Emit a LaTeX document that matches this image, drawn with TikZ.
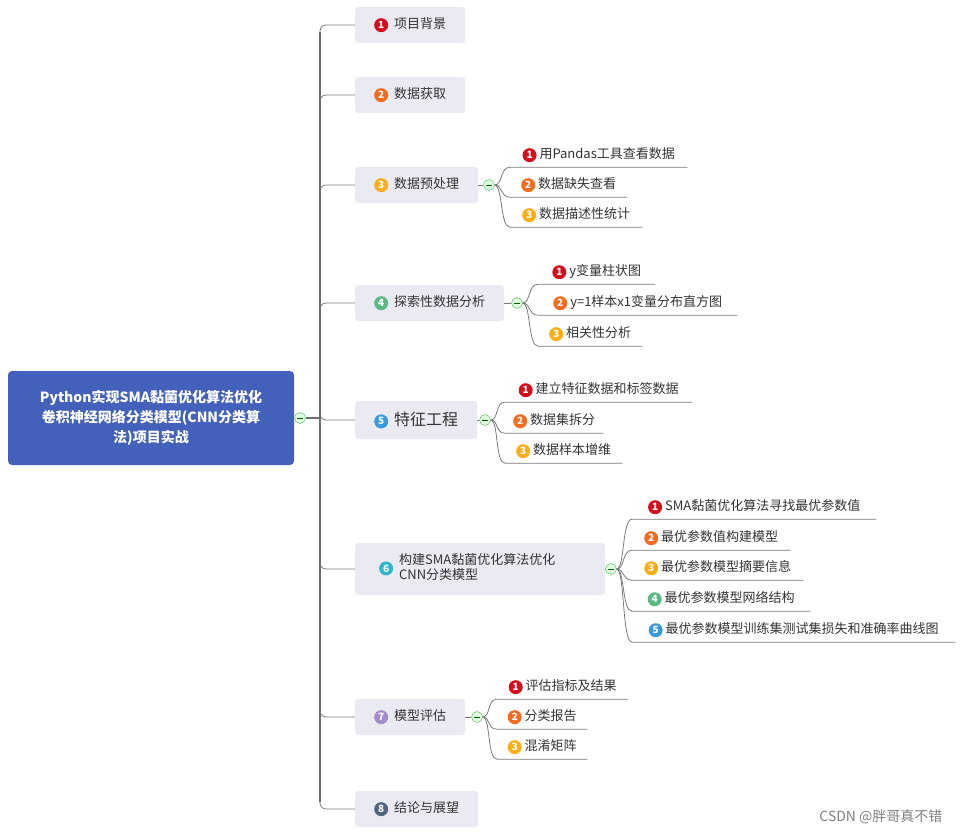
\documentclass[tikz,border=0pt]{standalone}
\usepackage{fontspec}
\setmainfont{Noto Sans CJK SC}
\definecolor{rootblue}{HTML}{4360BA}
\definecolor{boxgray}{HTML}{EAEAF2}
\definecolor{linegray}{HTML}{7A7A7A}
\definecolor{cred}{HTML}{D50D1C}
\definecolor{corange}{HTML}{F26B21}
\definecolor{camber}{HTML}{FBAE17}
\definecolor{cgreen}{HTML}{5BBA84}
\definecolor{cblue}{HTML}{3A9AD9}
\definecolor{ccyan}{HTML}{34B5C8}
\definecolor{cpurple}{HTML}{A58BC9}
\definecolor{cslate}{HTML}{4F6582}
\newcommand{\badge}[2]{\tikz[baseline=-3.6pt]\node[circle,fill=#1,text=white,inner sep=0pt,minimum size=14pt,font=\fontsize{10}{10}\selectfont\bfseries]{#2};}
\tikzset{
  topic/.style={rectangle,rounded corners=3pt,fill=boxgray,minimum height=36pt,inner xsep=19pt,
    anchor=west,font=\fontsize{13}{15}\selectfont,text=black!80},
  leaf/.style={anchor=west,minimum height=24pt,inner xsep=6pt,text=black!80,align=left,
    font=\fontsize{13}{15}\selectfont},
  fold/.style={circle,draw=green!60!black!70,fill=green!12,inner sep=0pt,minimum size=11pt,
    path picture={\draw[green!40!black] (path picture bounding box.west) ++(2.5pt,0) -- ++(6pt,0);}},
  link/.style={draw=linegray,line width=0.8pt},
  trunk/.style={draw=linegray!90!black,line width=2pt,rounded corners=6pt}
}
\begin{document}
\begin{tikzpicture}[x=1pt,y=-1pt]
\useasboundingbox (0,0) rectangle (960,837);
% Root
\node[rectangle,rounded corners=4pt,fill=rootblue,text=white,minimum width=286pt,minimum height=94pt,
  align=center,font=\fontsize{14}{20}\selectfont\bfseries] (root) at (151,418)
  {Python实现SMA黏菌优化算法优化\\卷积神经网络分类模型(CNN分类算\\法)项目实战};
\node[fold] (rf) at (300,418) {};
\coordinate (hub) at (320,418);
% Main topics
\node[topic] (t1) at (355,25) {\badge{cred}{1}\hspace{6pt}项目背景};
\node[topic] (t2) at (355,95) {\badge{corange}{2}\hspace{6pt}数据获取};
\node[topic] (t3) at (355,185) {\badge{camber}{3}\hspace{6pt}数据预处理};
\node[topic] (t4) at (355,303) {\badge{cgreen}{4}\hspace{6pt}探索性数据分析};
\node[topic,font=\fontsize{16}{18}\selectfont,minimum height=38pt] (t5) at (355,420) {\badge{cblue}{5}\hspace{6pt}特征工程};
\node[topic,minimum height=52pt,minimum width=250pt,inner xsep=14pt,align=left] (t6) at (355,569) {\badge{ccyan}{6}\hspace{6pt}\begin{tabular}{@{}l@{}}构建SMA黏菌优化算法优化\\CNN分类模型\end{tabular}\hspace{26pt}};
\node[topic] (t7) at (355,717) {\badge{cpurple}{7}\hspace{6pt}模型评估};
\node[topic] (t8) at (355,809) {\badge{cslate}{8}\hspace{6pt}结论与展望};
% Trunk
\draw[trunk] (rf) -- (hub);
\foreach \t in {t1,t2,t3,t4,t5,t6,t7,t8}
  \draw[link,rounded corners=6pt] (hub) |- (\t.west);
\draw[trunk,line width=2.2pt,rounded corners=0pt] (320,32) -- (320,802);
% Fold markers
\node[fold] (f3) at (489,185) {};
\node[fold] (f4) at (517,303) {};
\node[fold] (f5) at (485,420) {};
\node[fold] (f6) at (611,569) {};
\node[fold] (f7) at (477,717) {};
\foreach \t/\f in {t3/f3,t4/f4,t5/f5,t6/f6,t7/f7} \draw[link] (\t.east) -- (\f);
% Leaves
\node[leaf,minimum width=177pt] (l31) at (510,155) {\badge{cred}{1}\hspace{3pt}用Pandas工具查看数据};
\node[leaf,minimum width=117pt] (l32) at (510,185) {\badge{corange}{2}\hspace{3pt}数据缺失查看};
\node[leaf,minimum width=132pt] (l33) at (510,215) {\badge{camber}{3}\hspace{3pt}数据描述性统计};
\node[leaf,minimum width=117pt] (l41) at (538,272) {\badge{cred}{1}\hspace{3pt}y变量柱状图};
\node[leaf,minimum width=199pt] (l42) at (538,303) {\badge{corange}{2}\hspace{3pt}y=1样本x1变量分布直方图};
\node[leaf,minimum width=104pt] (l43) at (538,334) {\badge{camber}{3}\hspace{3pt}相关性分析};
\node[leaf,minimum width=187pt] (l51) at (505,390) {\badge{cred}{1}\hspace{3pt}建立特征数据和标签数据};
\node[leaf,minimum width=98pt] (l52) at (505,421) {\badge{corange}{2}\hspace{3pt}数据集拆分};
\node[leaf,minimum width=117pt] (l53) at (505,451) {\badge{camber}{3}\hspace{3pt}数据样本增维};
\node[leaf,minimum width=244pt] (l61) at (632,507) {\badge{cred}{1}\hspace{3pt}SMA黏菌优化算法寻找最优参数值};
\node[leaf,minimum width=158pt] (l62) at (632,538) {\badge{corange}{2}\hspace{3pt}最优参数值构建模型};
\node[leaf,minimum width=171pt] (l63) at (632,568) {\badge{camber}{3}\hspace{3pt}最优参数模型摘要信息};
\node[leaf,minimum width=178pt] (l64) at (632,599) {\badge{cgreen}{4}\hspace{3pt}最优参数模型网络结构};
\node[leaf,minimum width=323pt] (l65) at (632,630) {\badge{cblue}{5}\hspace{3pt}最优参数模型训练集测试集损失和准确率曲线图};
\node[leaf,minimum width=131pt] (l71) at (497,687) {\badge{cred}{1}\hspace{3pt}评估指标及结果};
\node[leaf,minimum width=90pt] (l72) at (497,717) {\badge{corange}{2}\hspace{3pt}分类报告};
\node[leaf,minimum width=90pt] (l73) at (497,747) {\badge{camber}{3}\hspace{3pt}混淆矩阵};
\foreach \f/\l in {f3/l31,f3/l32,f3/l33,f4/l41,f4/l42,f4/l43,f5/l51,f5/l52,f5/l53,
  f6/l61,f6/l62,f6/l63,f6/l64,f6/l65,f7/l71,f7/l72,f7/l73}{
  \draw[link] (\f.east) .. controls ([xshift=8pt]\f.east) and ([xshift=-10pt]\l.south west) .. (\l.south west) -- (\l.south east);
}
% Watermark
\node[anchor=east,text=gray,font=\fontsize{14}{16}\selectfont] (mark) at (946,817) {CSDN @胖哥真不错};
\end{tikzpicture}
\end{document}
